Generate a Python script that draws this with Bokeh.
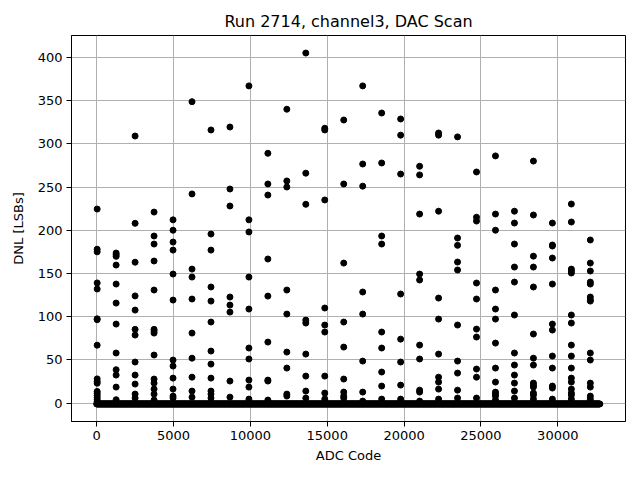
from bokeh.plotting import figure
from bokeh.embed import file_html
from bokeh.resources import INLINE
from bokeh.models import FixedTicker, Range1d

# Tested ADC codes (columns of the DAC scan)
column_codes = [32, 1266, 2500, 3734, 4968, 6202, 7436, 8670, 9904, 11138, 12372,
                13606, 14840, 16074, 17308, 18542, 19776, 21010, 22244, 23478,
                24712, 25946, 27180, 28414, 29648, 30882, 32116]

# DNL values [LSBs] seen at each column
column_dnl = [
    [224.5, 178, 175, 139, 132, 97.5, 96.5, 67, 28, 25, 23, 13.5, 11.5, 9, 6.5, 4, 2],
    [173.6, 171.7, 169.8, 159.7, 137.7, 115.7, 91.4, 57.9, 38.6, 32.4, 18.5, 3.9],
    [309, 208, 163, 124, 107.6, 85.3, 78.7, 47.5, 32.4, 22, 10.4, 5.8],
    [221, 193.3, 184, 164.4, 130.8, 85.3, 83.3, 81, 55.6, 27.8, 23.1, 16.2, 10.4, 3.5],
    [212, 200, 186.3, 177, 149.3, 119.2, 49.8, 42.8, 28.9, 16.2, 8.1, 5.8],
    [348.7, 242, 155, 145.8, 120.4, 81, 52, 30, 13.9, 6.9],
    [316, 195.6, 177, 134.3, 118, 93.8, 60.2, 45.1, 28.9, 13.9, 10.4, 5.8],
    [319.4, 247.7, 228, 122.7, 113.4, 105.3, 25.5, 6.9],
    [367, 212, 198, 145.8, 108.8, 63.7, 51, 26.6, 18.5, 4.6],
    [289, 253.5, 240.7, 166.7, 123.8, 70.6, 26.6, 25.5, 3.5],
    [340, 257, 250, 130.8, 103, 59, 40.5, 10.4, 8.1],
    [405, 266, 230, 96, 92.6, 56.7, 31.2, 13.9, 5.8],
    [318, 316, 235, 110, 90.3, 82.2, 31.2, 11.6, 4.6],
    [327.5, 253.5, 162, 93.8, 64.8, 27.8, 12.7, 8.1, 5.8],
    [367, 276.6, 251, 128.5, 103, 48.6, 12.7, 2.3],
    [335.6, 277.8, 193.3, 184, 82.2, 63.7, 35.9, 19.7, 4.6],
    [328.7, 310, 265, 126.2, 74, 47.5, 20.8, 4.6],
    [274, 264, 218.7, 149.3, 142.4, 67.1, 51, 15, 12.7, 2.3],
    [312.5, 310, 222, 121.5, 97.2, 56.7, 30, 24.3, 16.2, 4.6],
    [308, 191, 182.5, 163.2, 154, 90.3, 48.6, 34.7, 15, 5.8],
    [267.4, 215, 210.6, 138.9, 120.4, 85.6, 76.4, 39.4, 30, 5.8],
    [286, 218.7, 200, 130.8, 108.8, 97.2, 69.4, 40.5, 24.3, 12.7, 10.4, 8.1, 3.5],
    [222, 208.3, 184, 157.4, 140, 101.9, 57.9, 44, 32.4, 23.1, 13.9, 5.8],
    [280, 217.6, 170, 157.4, 134.3, 79.9, 52, 44, 23.1, 20.8, 18.5, 11.6, 9.3, 4.6],
    [208.3, 182.9, 181.7, 167.8, 137.7, 91.4, 84.5, 54.4, 40.5, 19.7, 17.4, 4.6],
    [230.3, 209.5, 155, 152.8, 150.5, 101.9, 92.6, 67.1, 54.4, 40.5, 28.9, 24.3, 16.2, 11.6, 9.3, 4.6],
    [188.7, 162, 152.8, 140, 137.7, 122.7, 119.2, 118, 57.9, 49.8, 23.1, 18.5, 8.1, 4.6],
]

# All other codes are missing: DNL = -1 LSB
missing_codes = list(range(0, 32768, 32))
missing_dnl = [-1] * len(missing_codes)

x_ticks = [0, 5000, 10000, 15000, 20000, 25000, 30000]
y_ticks = [0, 50, 100, 150, 200, 250, 300, 350, 400]

xs = []
ys = []
for code, vals in zip(column_codes, column_dnl):
    for v in vals:
        xs.append(code)
        ys.append(v)

FONT = "DejaVu Sans"

p = figure(width=632, height=472, output_backend="svg", toolbar_location=None,
           title="Run 2714, channel3, DAC Scan",
           x_range=Range1d(-1638, 34405), y_range=Range1d(-21.3, 425.3),
           min_border_left=71, min_border_right=7, min_border_top=35, min_border_bottom=51)

p.title.text_font = FONT
p.title.text_font_size = "16px"
p.title.text_font_style = "normal"
p.title.align = "center"
p.title.text_color = "black"

p.scatter(missing_codes, missing_dnl, size=6, color="black")
p.scatter(xs, ys, size=6, color="black")

p.outline_line_color = "black"
p.outline_line_width = 1
p.outline_line_alpha = 1

for ax in (p.xaxis[0], p.yaxis[0]):
    ax.axis_line_color = "black"
    ax.major_tick_line_color = "black"
    ax.major_tick_out = 5
    ax.major_tick_in = 0
    ax.minor_tick_out = 0
    ax.minor_tick_in = 0
    ax.major_label_text_font = FONT
    ax.major_label_text_font_size = "13px"
    ax.major_label_text_color = "black"
    ax.axis_label_text_font = FONT
    ax.axis_label_text_font_size = "13px"
    ax.axis_label_text_font_style = "normal"
    ax.axis_label_text_color = "black"
    ax.major_label_standoff = 4

p.xaxis.ticker = FixedTicker(ticks=x_ticks)
p.yaxis.ticker = FixedTicker(ticks=y_ticks)
p.xaxis.axis_label = "ADC Code"
p.yaxis.axis_label = "DNL [LSBs]"
p.xaxis.axis_label_standoff = 5
p.yaxis.axis_label_standoff = 9

p.grid.grid_line_color = "#b0b0b0"
p.grid.grid_line_width = 1

open("out.html", "w").write(file_html(p, INLINE))
